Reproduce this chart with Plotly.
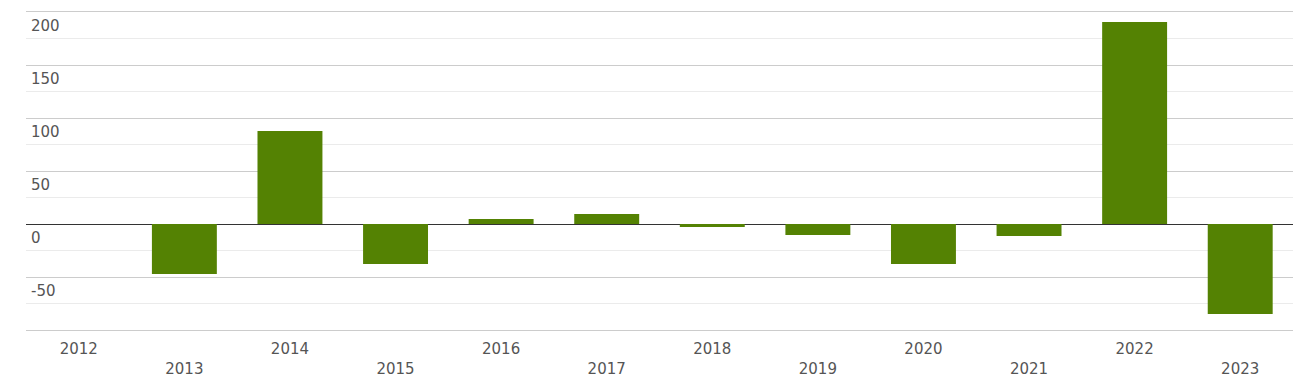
import plotly.graph_objects as go

years = ["2012", "2013", "2014", "2015", "2016", "2017", "2018", "2019", "2020", "2021", "2022", "2023"]
values = [0, -47.2, 87.7, -37.7, 4.7, 9.4, -2.8, -10.4, -37.7, -11.3, 190.6, -84.9]
x_labels = [y if i % 2 == 0 else "<br>" + y for i, y in enumerate(years)]
y_ticks = [-100, -50, 0, 50, 100, 150, 200]
y_tick_text = ["", "-50", "0", "50", "100", "150", "200"]

fig = go.Figure(go.Bar(
    x=years, y=values,
    marker=dict(color="#548203", line=dict(width=0)),
    hoverinfo="x+y",
))

fig.update_layout(
    width=1293, height=384,
    margin=dict(l=26, r=0, t=12, b=54),
    paper_bgcolor="white", plot_bgcolor="white",
    bargap=0.385,
    showlegend=False,
    font=dict(family="DejaVu Sans", size=15, color="#555555"),
    xaxis=dict(
        tickmode="array", tickvals=years, ticktext=x_labels,
        range=[-0.5, 11.5],
        showgrid=False, zeroline=False, ticks="",
        showline=True, linecolor="#cccccc", linewidth=1, mirror=True,
        automargin=False,
        ticklabelstandoff=5,
        tickfont=dict(family="DejaVu Sans", size=15, color="#555555"),
    ),
    yaxis=dict(
        range=[-100, 200],
        tickmode="array", tickvals=y_ticks, ticktext=y_tick_text,
        showgrid=True, gridcolor="#cccccc", gridwidth=1,
        minor=dict(dtick=25, showgrid=True, gridcolor="#ebebeb", gridwidth=1, tick0=0),
        zeroline=True, zerolinecolor="#333333", zerolinewidth=1,
        showline=False, ticks="",
        automargin=False,
        ticklabelposition="inside",
        ticklabelshift=14, ticklabelstandoff=2,
        tickfont=dict(family="DejaVu Sans", size=15, color="#555555"),
    ),
)

fig.write_html(
    "out.html",
    config={"displayModeBar": False},
    post_script="document.body.style.margin='0';document.body.style.overflow='hidden';",
)
